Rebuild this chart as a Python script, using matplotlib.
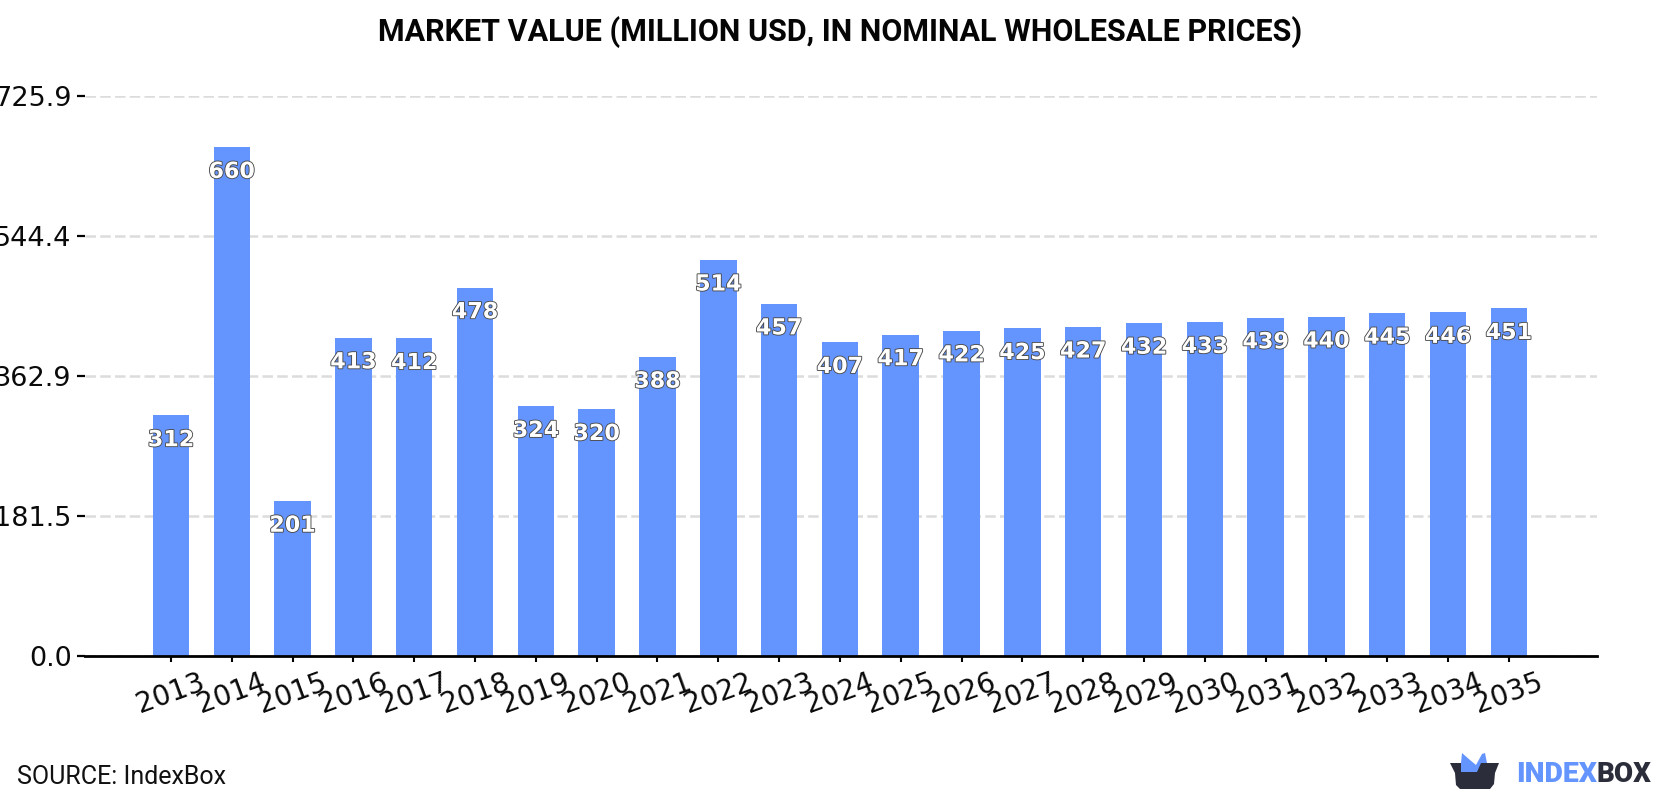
import matplotlib
matplotlib.use("Agg")
import matplotlib.pyplot as plt
import matplotlib.patheffects as pe
from matplotlib.patches import Polygon

years = [str(y) for y in range(2013, 2036)]
values = [312, 660, 201, 413, 412, 478, 324, 320, 388, 514, 457, 407, 417,
          422, 425, 427, 432, 433, 439, 440, 445, 446, 451]
y_ticks = [0.0, 181.5, 362.9, 544.4, 725.9]

W, H = 1680, 800
BLUE = "#6495ff"
DARK = "#2b2d3a"

fig = plt.figure(figsize=(W / 100, H / 100), dpi=100, facecolor="white")
left, right, top, bottom = 85, 1597, 96.4, 656
ax = fig.add_axes([left / W, 1 - bottom / H, (right - left) / W, (bottom - top) / H])

xs = list(range(len(years)))
ax.bar(xs, values, width=0.6, color=BLUE, zorder=2)
ax.set_xlim(-1.414, 23.45)
ax.set_ylim(0, 725.9)

ax.set_yticks(y_ticks, [f"{v:.1f}" for v in y_ticks], fontsize=19.5, color="#0a0a0a")
ax.set_xticks(xs, years, fontsize=20, rotation=20, color="#0a0a0a", ha="center")
ax.tick_params(axis="y", length=5.5, width=1.6, pad=4, color="black")
ax.tick_params(axis="x", length=4.5, width=1.5, pad=4, color="black")
ax.grid(axis="y", color="#dcdcdc", lw=1.8, dashes=(4.2, 1.7), zorder=1)
ax.set_axisbelow(True)
for side in ("top", "right", "left"):
    ax.spines[side].set_visible(False)
ax.spines["bottom"].set_linewidth(2)
ax.spines["bottom"].set_color("black")
ax.spines["bottom"].set_zorder(5)

# Value labels sit just inside the top of each bar
for x, v in zip(xs, values):
    ax.annotate(str(v), (x, v), xytext=(0, -17.8), textcoords="offset points",
                ha="center", va="center", fontsize=16, fontweight="bold",
                family="DejaVu Sans", color="white", zorder=4,
                path_effects=[pe.withStroke(linewidth=1.3, foreground="#4a4a4a")])

fig.text(0.5, 1 - 32 / H, "MARKET VALUE (MILLION USD, IN NOMINAL WHOLESALE PRICES)",
         ha="center", va="center", family="Roboto", fontweight="bold", fontsize=22,
         color="#050505")
fig.text(17 / W, 1 - 777 / H, "SOURCE: IndexBox", ha="left", va="center",
         family="Roboto", fontsize=18, color="#111111")

# Brand mark in pixel coordinates, y measured from the top edge
logo = fig.add_axes([0, 0, 1, 1], facecolor="none")
logo.set_xlim(0, W)
logo.set_ylim(H, 0)
logo.axis("off")
logo.add_patch(Polygon([(1461, 763), (1462, 753), (1470, 760), (1476, 765), (1482, 754),
                       (1485, 753), (1487, 763), (1486, 772), (1461, 772)],
                       closed=True, color=BLUE, lw=0))
logo.add_patch(Polygon([(1450, 763), (1461, 763), (1461, 772), (1477, 772), (1481, 763),
                       (1499, 763), (1495, 773), (1494, 784), (1490, 789),
                       (1460, 789), (1456, 785), (1455, 773)],
                       closed=True, color=DARK, lw=0))
logo.text(1516, 774, "INDEX", ha="left", va="center", family="Roboto", fontweight="black",
          fontsize=20.5, color=BLUE)
logo.text(1597, 774, "BOX", ha="left", va="center", family="Roboto", fontweight="black",
          fontsize=20, color=DARK)

fig.savefig("out.png", dpi=100, facecolor="white")
